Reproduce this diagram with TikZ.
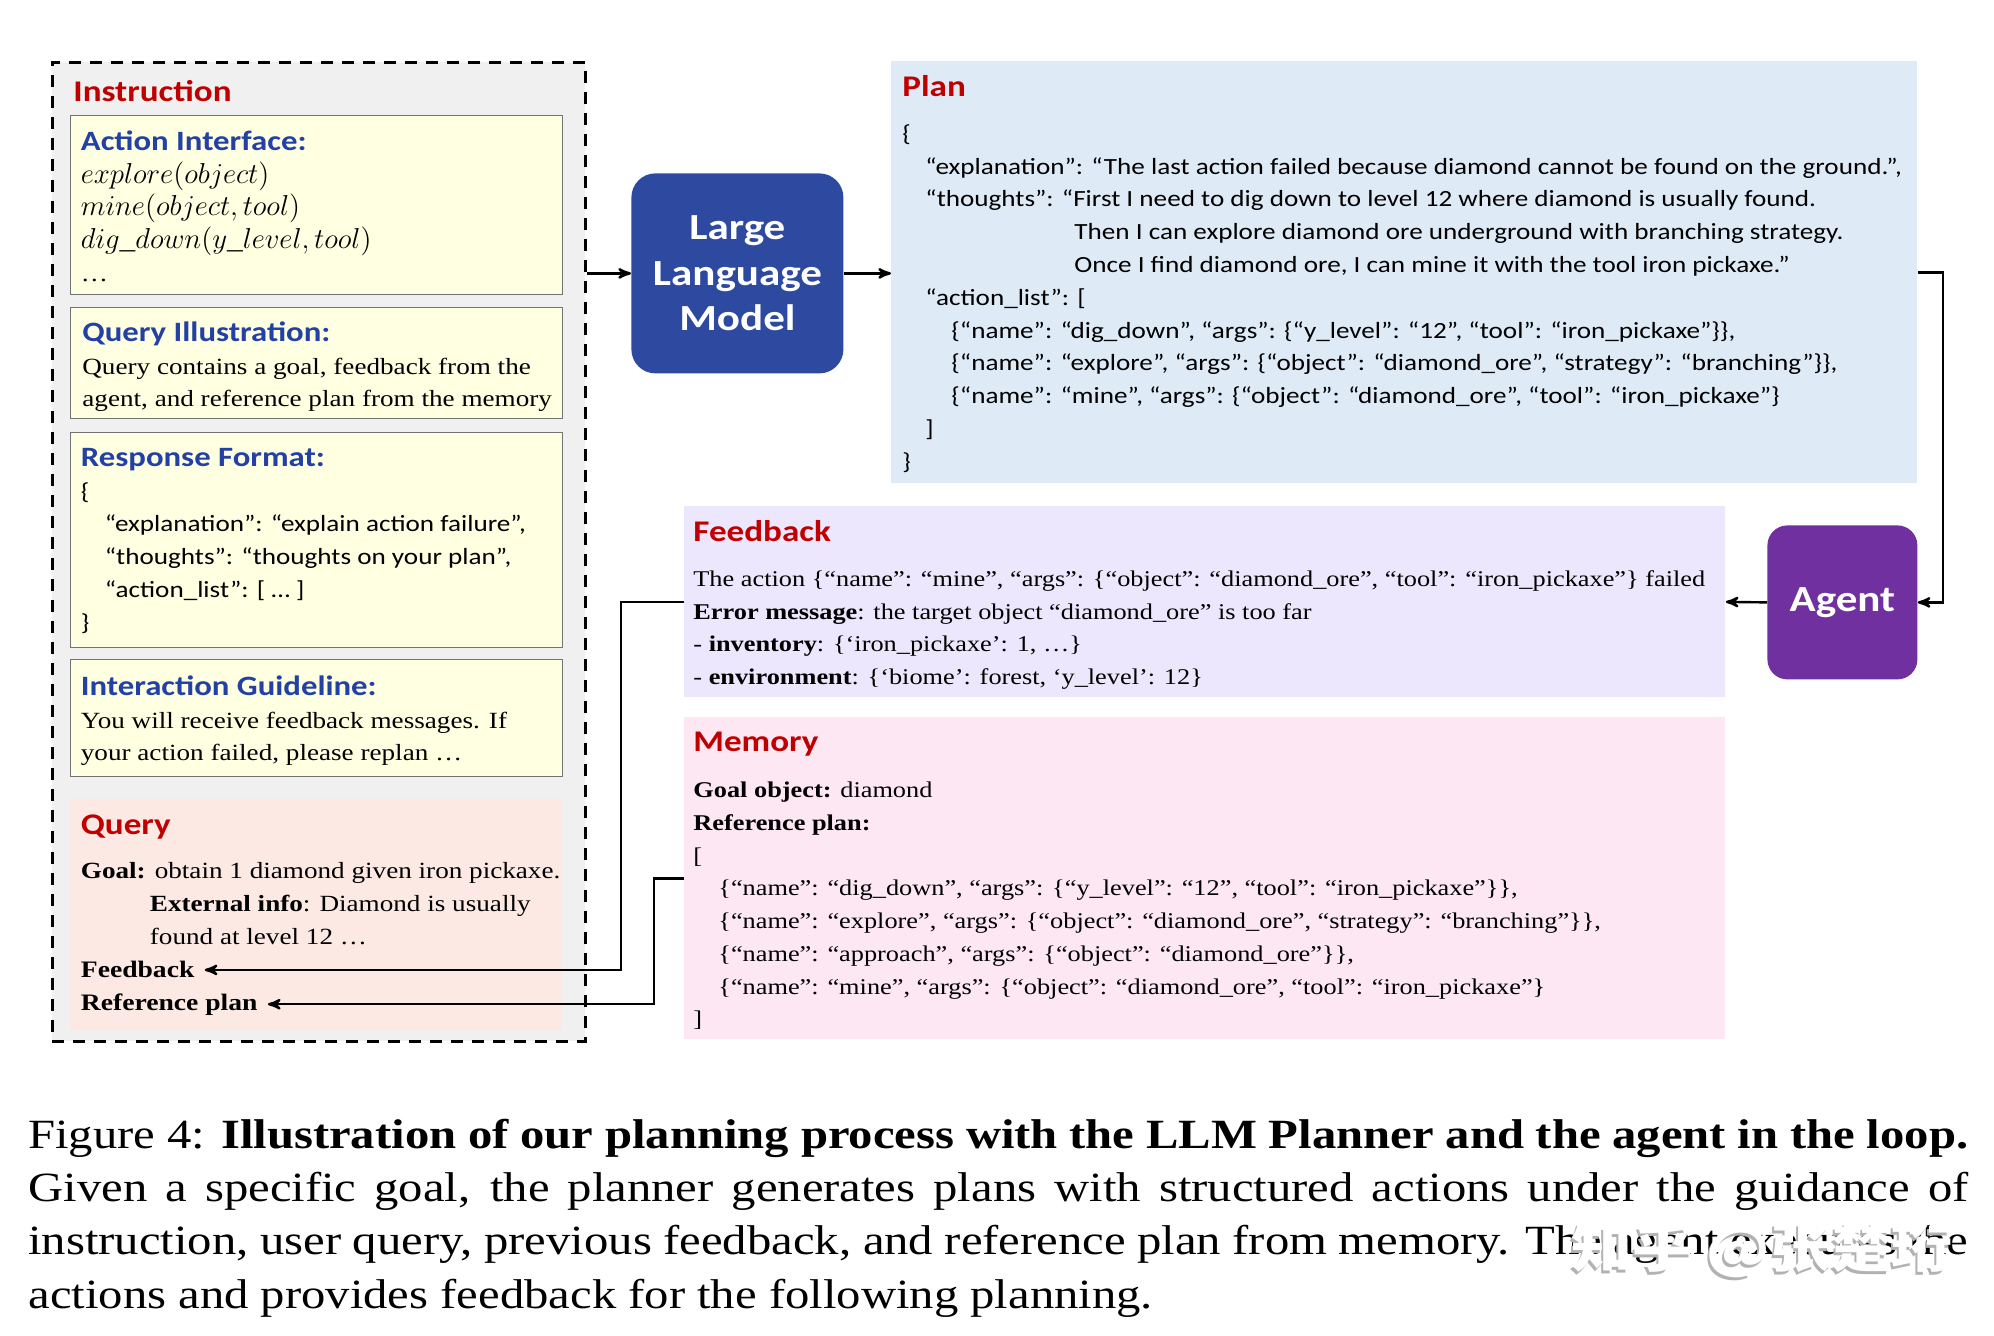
\documentclass[tikz,border=0pt]{standalone}
\usepackage{fontspec}
\setmainfont{Liberation Serif}[FakeStretch=1.17]
\newfontfamily\calibri{Carlito}[FakeStretch=1.17]
\newfontfamily\cjkfont{Noto Sans CJK SC}[FakeStretch=1.17]
\usepackage{tikz}
\usetikzlibrary{arrows}
\tikzset{>=stealth'}
\definecolor{hdred}{RGB}{192,0,0}
\definecolor{hdblue}{RGB}{35,64,165}
\definecolor{llmblue}{RGB}{46,73,160}
\definecolor{agentpurple}{RGB}{112,48,160}
\definecolor{instrgray}{RGB}{240,240,240}
\definecolor{boxyellow}{RGB}{255,255,225}
\definecolor{planblue}{RGB}{222,235,247}
\definecolor{fbviolet}{RGB}{236,231,252}
\definecolor{mempink}{RGB}{252,231,242}
\definecolor{querysalmon}{RGB}{252,233,227}
\newcommand{\lnstrut}{\rule{0pt}{14pt}}
\newcommand{\bhead}[1]{{\calibri\bfseries\fontsize{14}{16.4}\selectfont\color{hdblue}#1}}
\newcommand{\act}[1]{{\fontsize{13.4}{16.4}\selectfont$#1$}}
\tikzset{
	panel/.style={rectangle, anchor=north west, inner sep=0pt},
	subbox/.style={panel, fill=boxyellow, draw=black!55, line width=0.7pt, minimum width=246pt},
	roundbox/.style={rectangle, anchor=north west, rounded corners=12pt, text=white, align=center, font=\calibri\bfseries\fontsize{18.4}{22.7}\selectfont},
	redhead/.style={anchor=base west, inner sep=0pt, text=hdred, font=\calibri\bfseries\fontsize{15}{18}\selectfont},
	serifbody/.style={anchor=north west, inner sep=0pt, align=left, font=\fontsize{11.6}{16.4}\selectfont},
	rightbody/.style={serifbody, font=\fontsize{11.25}{16.4}\selectfont},
	sansbody/.style={serifbody, font=\calibri\fontsize{11.6}{16.4}\selectfont},
	querylabel/.style={anchor=base west, inner sep=0pt, font=\bfseries\fontsize{11.8}{16.4}\selectfont},
	wmark/.style={font=\cjkfont\bfseries\fontsize{26}{26}\selectfont},
	link/.style={->, line width=1.2pt},
}

\begin{document}
\begin{tikzpicture}[x=0.5pt, y=-0.5pt]
	\useasboundingbox (0,0) rectangle (1994,1336);

	% instruction panel
	\node[panel, fill=instrgray, draw, dash pattern=on 6pt off 4.5pt, line width=1.3pt, minimum width=266.5pt, minimum height=489.5pt] (instr) at (51,61) {};
	\node[redhead] (instrhead) at (73,102) {Instruction};

	\node[subbox, minimum height=89.5pt] (act) at (70,115) {};
	\node[serifbody] (acttext) at (80.5,122) {\lnstrut\bhead{Action Interface:}\\
		\act{explore(object)}\\
		\act{mine(object, tool)}\\
		\act{dig\_down(y\_level, tool)}\\
		\ldots};

	\node[subbox, minimum height=55.5pt] (qill) at (70,307) {};
	\node[serifbody] (qilltext) at (82,313) {\lnstrut\bhead{Query Illustration:}\\
		Query contains a goal, feedback from the\\
		agent, and reference plan from the memory};

	\node[subbox, minimum height=107.5pt] (resp) at (70,432) {};
	\node[sansbody] (resptext) at (80.5,438) {\lnstrut\bhead{Response Format:}\\
		\{\\
		\hspace*{12pt}“explanation”: “explain action failure”,\\
		\hspace*{12pt}“thoughts”: “thoughts on your plan”,\\
		\hspace*{12pt}“action\_list”: [ … ]\\
		\}};

	\node[subbox, minimum height=58.5pt] (guide) at (70,659) {};
	\node[serifbody] (guidetext) at (80.5,667) {\lnstrut\bhead{Interaction Guideline:}\\
		You will receive feedback messages. If\\
		your action failed, please replan …};

	% query
	\node[panel, fill=querysalmon, minimum width=246pt, minimum height=115.5pt] (query) at (70,799) {};
	\node[redhead] (queryhead) at (80.5,835) {Query};
	\node[serifbody] (querytext) at (80.5,850) {\lnstrut\textbf{Goal:} obtain 1 diamond given iron pickaxe.\\
		\hspace*{34.5pt}\textbf{External info}: Diamond is usually\\
		\hspace*{34.5pt}found at level 12 …};
	\node[querylabel] (fbq) at (80.5,978) {Feedback};
	\node[querylabel] (refq) at (80.5,1010) {Reference plan};

	% planner and agent
	\node[roundbox, fill=llmblue, minimum width=106pt, minimum height=100pt] (llm) at (631,173) {Large\\Language\\Model};
	\node[roundbox, fill=agentpurple, rounded corners=10pt, minimum width=75pt, minimum height=77pt] (agent) at (1767,525) {Agent};

	% plan
	\node[panel, fill=planblue, minimum width=513pt, minimum height=211pt] (plan) at (891,61) {};
	\node[redhead] (planhead) at (902,97) {Plan};
	\node[sansbody] (plantext) at (902,113) {\lnstrut\{\\
		\hspace*{11.5pt}“explanation”: “The last action failed because diamond cannot be found on the ground.”,\\
		\hspace*{11.5pt}“thoughts”: “First I need to dig down to level 12 where diamond is usually found.\\
		\hspace*{86pt}Then I can explore diamond ore underground with branching strategy.\\
		\hspace*{86pt}Once I find diamond ore, I can mine it with the tool iron pickaxe.”\\
		\hspace*{11.5pt}“action\_list”: [\\
		\hspace*{24.5pt}\{“name”: “dig\_down”, “args”: \{“y\_level”: “12”, “tool”: “iron\_pickaxe”\}\},\\
		\hspace*{24.5pt}\{“name”: “explore”, “args”: \{“object”: “diamond\_ore”, “strategy”: “branching”\}\},\\
		\hspace*{24.5pt}\{“name”: “mine”, “args”: \{“object”: “diamond\_ore”, “tool”: “iron\_pickaxe”\}\\
		\hspace*{11.5pt}]\\
		\}};

	% feedback
	\node[panel, fill=fbviolet, minimum width=520.5pt, minimum height=95.5pt] (fb) at (684,506) {};
	\node[redhead] (fbhead) at (693,542) {Feedback};
	\node[rightbody] (fbtext) at (693,558) {\lnstrut The action \{“name”: “mine”, “args”: \{“object”: “diamond\_ore”, “tool”: “iron\_pickaxe”\} failed\\
		\textbf{Error message}: the target object “diamond\_ore” is too far\\
		- \textbf{inventory}: \{‘iron\_pickaxe’: 1, …\}\\
		- \textbf{environment}: \{‘biome’: forest, ‘y\_level’: 12\}};

	% memory
	\node[panel, fill=mempink, minimum width=520.5pt, minimum height=161pt] (mem) at (684,717) {};
	\node[redhead] (memhead) at (693,752) {Memory};
	\node[rightbody] (memtext) at (693,769) {\lnstrut\textbf{Goal object:} diamond\\
		\textbf{Reference plan:}\\
		{[}\\
		\hspace*{12.5pt}\{“name”: “dig\_down”, “args”: \{“y\_level”: “12”, “tool”: “iron\_pickaxe”\}\},\\
		\hspace*{12.5pt}\{“name”: “explore”, “args”: \{“object”: “diamond\_ore”, “strategy”: “branching”\}\},\\
		\hspace*{12.5pt}\{“name”: “approach”, “args”: \{“object”: “diamond\_ore”\}\},\\
		\hspace*{12.5pt}\{“name”: “mine”, “args”: \{“object”: “diamond\_ore”, “tool”: “iron\_pickaxe”\}\\
		]};

	% connectors
	\draw[link] (llm.west -| instr.east) -- (llm.west);
	\draw[link] (llm.east) -- (llm.east -| plan.west);
	\draw[link] (plan.east) -- ++(25,0) |- (agent.east);
	\draw[link] (agent.west) -- (fb.east);
	\draw[link] (fb.west) -- ++(-63,0) |- ([xshift=5pt]fbq.east);
	\draw[link] (mem.west) -- ++(-30,0) |- ([xshift=5pt]refq.east);

	% caption
	\node[anchor=north west, inner sep=0pt, text width=970pt, align=justify, font=\fontsize{20.8}{26.6}\selectfont] (cap) at (28,1108) {\rule{0pt}{20pt}Figure 4: \textbf{Illustration of our planning process with the LLM Planner and the agent in the loop.}\linebreak
		Given a specific goal, the planner generates plans with structured actions under the guidance of\linebreak
		instruction, user query, previous feedback, and reference plan from memory. The agent executes the\linebreak
		actions and provides feedback for the following planning.};

	% watermark
	\node[wmark, text=black!30] (wmshadow) at (1760,1253) {知乎 @张楚珩};
	\node[wmark, text=white] (wm) at (1762,1250) {知乎 @张楚珩};
\end{tikzpicture}
\end{document}
